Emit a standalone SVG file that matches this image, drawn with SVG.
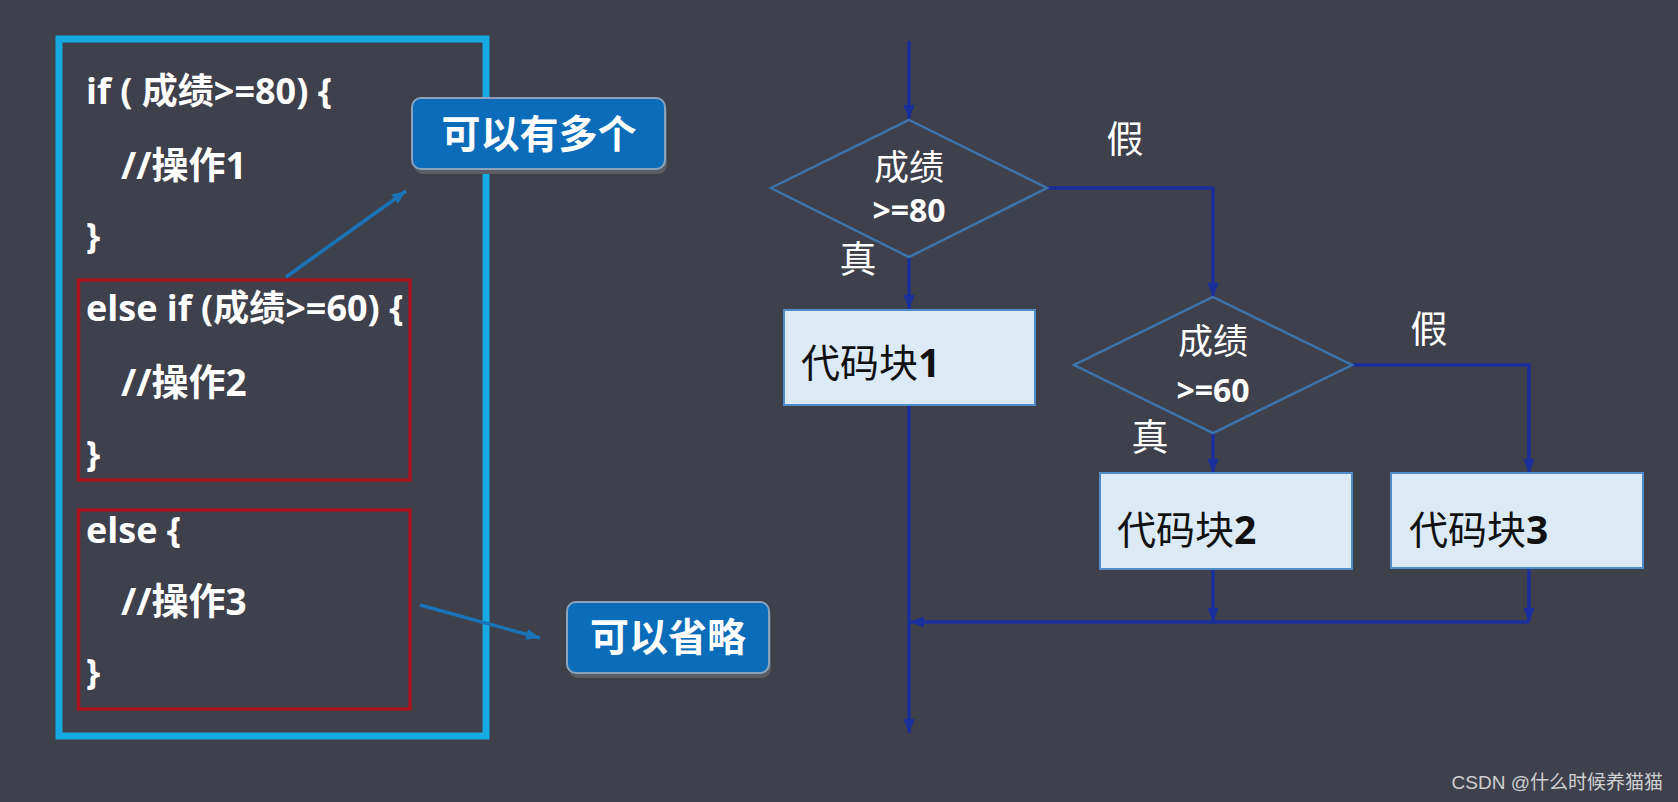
<svg xmlns="http://www.w3.org/2000/svg" width="1678" height="802" viewBox="0 0 1678 802">
<defs>
<style>
.code{font-family:"Open Sans","Noto Sans CJK SC",sans-serif;font-weight:700;font-size:36px;fill:#ffffff}
.op{font-size:37px}
.call{font-family:"Noto Sans CJK SC",sans-serif;font-weight:700;font-size:39px;fill:#ffffff}
.dtxt{font-family:"Noto Sans CJK SC",sans-serif;font-size:35px;fill:#ffffff}
.dnum{font-family:"Open Sans","Noto Sans CJK SC",sans-serif;font-weight:700;font-size:32px;fill:#ffffff}
.lbl{font-family:"Noto Sans CJK SC",sans-serif;font-size:37px;fill:#ffffff}
.btxt{font-family:"Noto Sans CJK SC",sans-serif;font-size:39px;fill:#111111}
.bnum{font-family:"Open Sans",sans-serif;font-weight:700}
.diamond{fill:none;stroke:#3d74ab;stroke-width:2.5}
.block{fill:#dceaf6;stroke:#4f8cc9;stroke-width:2}
.flow{fill:none;stroke:#1a2f9c;stroke-width:3.5}
.callbox{fill:#0b6cb9;stroke:#8da3bc;stroke-width:2}
.callarrow{stroke:#1a73b6;stroke-width:3.5;fill:none}
</style>
<marker id="ah" viewBox="0 0 10 10" refX="10" refY="5" markerWidth="4" markerHeight="4" orient="auto" markerUnits="strokeWidth">
<path d="M0,1 L10,5 L0,9 Z" fill="#1a2f9c"/>
</marker>
<marker id="ahc" viewBox="0 0 10 10" refX="10" refY="5" markerWidth="4" markerHeight="4" orient="auto" markerUnits="strokeWidth">
<path d="M0,1 L10,5 L0,9 Z" fill="#1a73b6"/>
</marker>
</defs>
<rect width="1678" height="802" fill="#3e404b"/>

<g id="code-panel">
<rect x="59" y="39" width="427" height="697" fill="none" stroke="#17a9e1" stroke-width="7"/>
<text class="code" x="86" y="104">if ( 成绩&gt;=80) {</text>
<text class="code op" x="121" y="179">//操作1</text>
<text class="code" x="86" y="249">}</text>
</g>
<g id="elseif-block">
<rect x="78.5" y="280" width="331.5" height="200" fill="none" stroke="#a8141e" stroke-width="3.5"/>
<text class="code" x="86" y="321">else if (成绩&gt;=60) {</text>
<text class="code op" x="121" y="396">//操作2</text>
<text class="code" x="86" y="467">}</text>
</g>
<g id="else-block">
<rect x="78.5" y="510" width="331.5" height="199" fill="none" stroke="#a8141e" stroke-width="3.5"/>
<text class="code" x="86" y="543">else {</text>
<text class="code op" x="121" y="615">//操作3</text>
<text class="code" x="86" y="685">}</text>
</g>

<g id="callout-many">
<rect x="414" y="103" width="253" height="71" rx="9" fill="#5a5d66"/>
<rect x="412" y="98" width="253" height="71" rx="9" class="callbox"/>
<text class="call" x="539" y="148" text-anchor="middle">可以有多个</text>
</g>
<g id="callout-omit">
<rect x="569" y="607" width="202" height="71" rx="9" fill="#5a5d66"/>
<rect x="567" y="602" width="202" height="71" rx="9" class="callbox"/>
<text class="call" x="668" y="651" text-anchor="middle">可以省略</text>
</g>

<g id="callout-connectors">
<line x1="286" y1="277" x2="406" y2="191" class="callarrow" marker-end="url(#ahc)"/>
<line x1="420" y1="605" x2="540" y2="638" class="callarrow" marker-end="url(#ahc)"/>
</g>

<g id="connectors">
<line x1="909" y1="41" x2="909" y2="119" class="flow" marker-end="url(#ah)"/>
<line x1="909" y1="257" x2="909" y2="309" class="flow" marker-end="url(#ah)"/>
<polyline points="1047,188 1213,188 1213,297" class="flow" marker-end="url(#ah)"/>
<line x1="1213" y1="433" x2="1213" y2="473" class="flow" marker-end="url(#ah)"/>
<polyline points="1352,365 1529,365 1529,473" class="flow" marker-end="url(#ah)"/>
<line x1="909" y1="405" x2="909" y2="733" class="flow" marker-end="url(#ah)"/>
<line x1="1213" y1="569" x2="1213" y2="622" class="flow" marker-end="url(#ah)"/>
<line x1="1529" y1="568" x2="1529" y2="622" class="flow" marker-end="url(#ah)"/>
<line x1="1529" y1="622" x2="910" y2="622" class="flow" marker-end="url(#ah)"/>
</g>

<g id="decision-80">
<polygon points="909,120 1047,188 909,257 771,188" class="diamond"/>
<text class="dtxt" x="909" y="180" text-anchor="middle">成绩</text>
<text class="dnum" x="909" y="222" text-anchor="middle">&gt;=80</text>
</g>
<g id="label-false-1"><text class="lbl" x="1125" y="153" text-anchor="middle">假</text></g>
<g id="label-true-1"><text class="lbl" x="858" y="273" text-anchor="middle">真</text></g>

<g id="block-1">
<rect x="784" y="310" width="251" height="95" class="block"/>
<text class="btxt" x="801" y="377">代码块<tspan class="bnum">1</tspan></text>
</g>

<g id="decision-60">
<polygon points="1213,297 1352,365 1213,433 1074,365" class="diamond"/>
<text class="dtxt" x="1213" y="354" text-anchor="middle">成绩</text>
<text class="dnum" x="1213" y="402" text-anchor="middle">&gt;=60</text>
</g>
<g id="label-false-2"><text class="lbl" x="1429" y="343" text-anchor="middle">假</text></g>
<g id="label-true-2"><text class="lbl" x="1150" y="451" text-anchor="middle">真</text></g>

<g id="block-2">
<rect x="1100" y="473" width="252" height="96" class="block"/>
<text class="btxt" x="1117" y="544">代码块<tspan class="bnum">2</tspan></text>
</g>
<g id="block-3">
<rect x="1391" y="473" width="252" height="95" class="block"/>
<text class="btxt" x="1409" y="544">代码块<tspan class="bnum">3</tspan></text>
</g>

<g id="watermark">
<text x="1663" y="789" text-anchor="end" font-family="'Liberation Sans','Noto Sans CJK SC',sans-serif" font-size="19" fill="#d0d0d0">CSDN @什么时候养猫猫</text>
</g>
</svg>
